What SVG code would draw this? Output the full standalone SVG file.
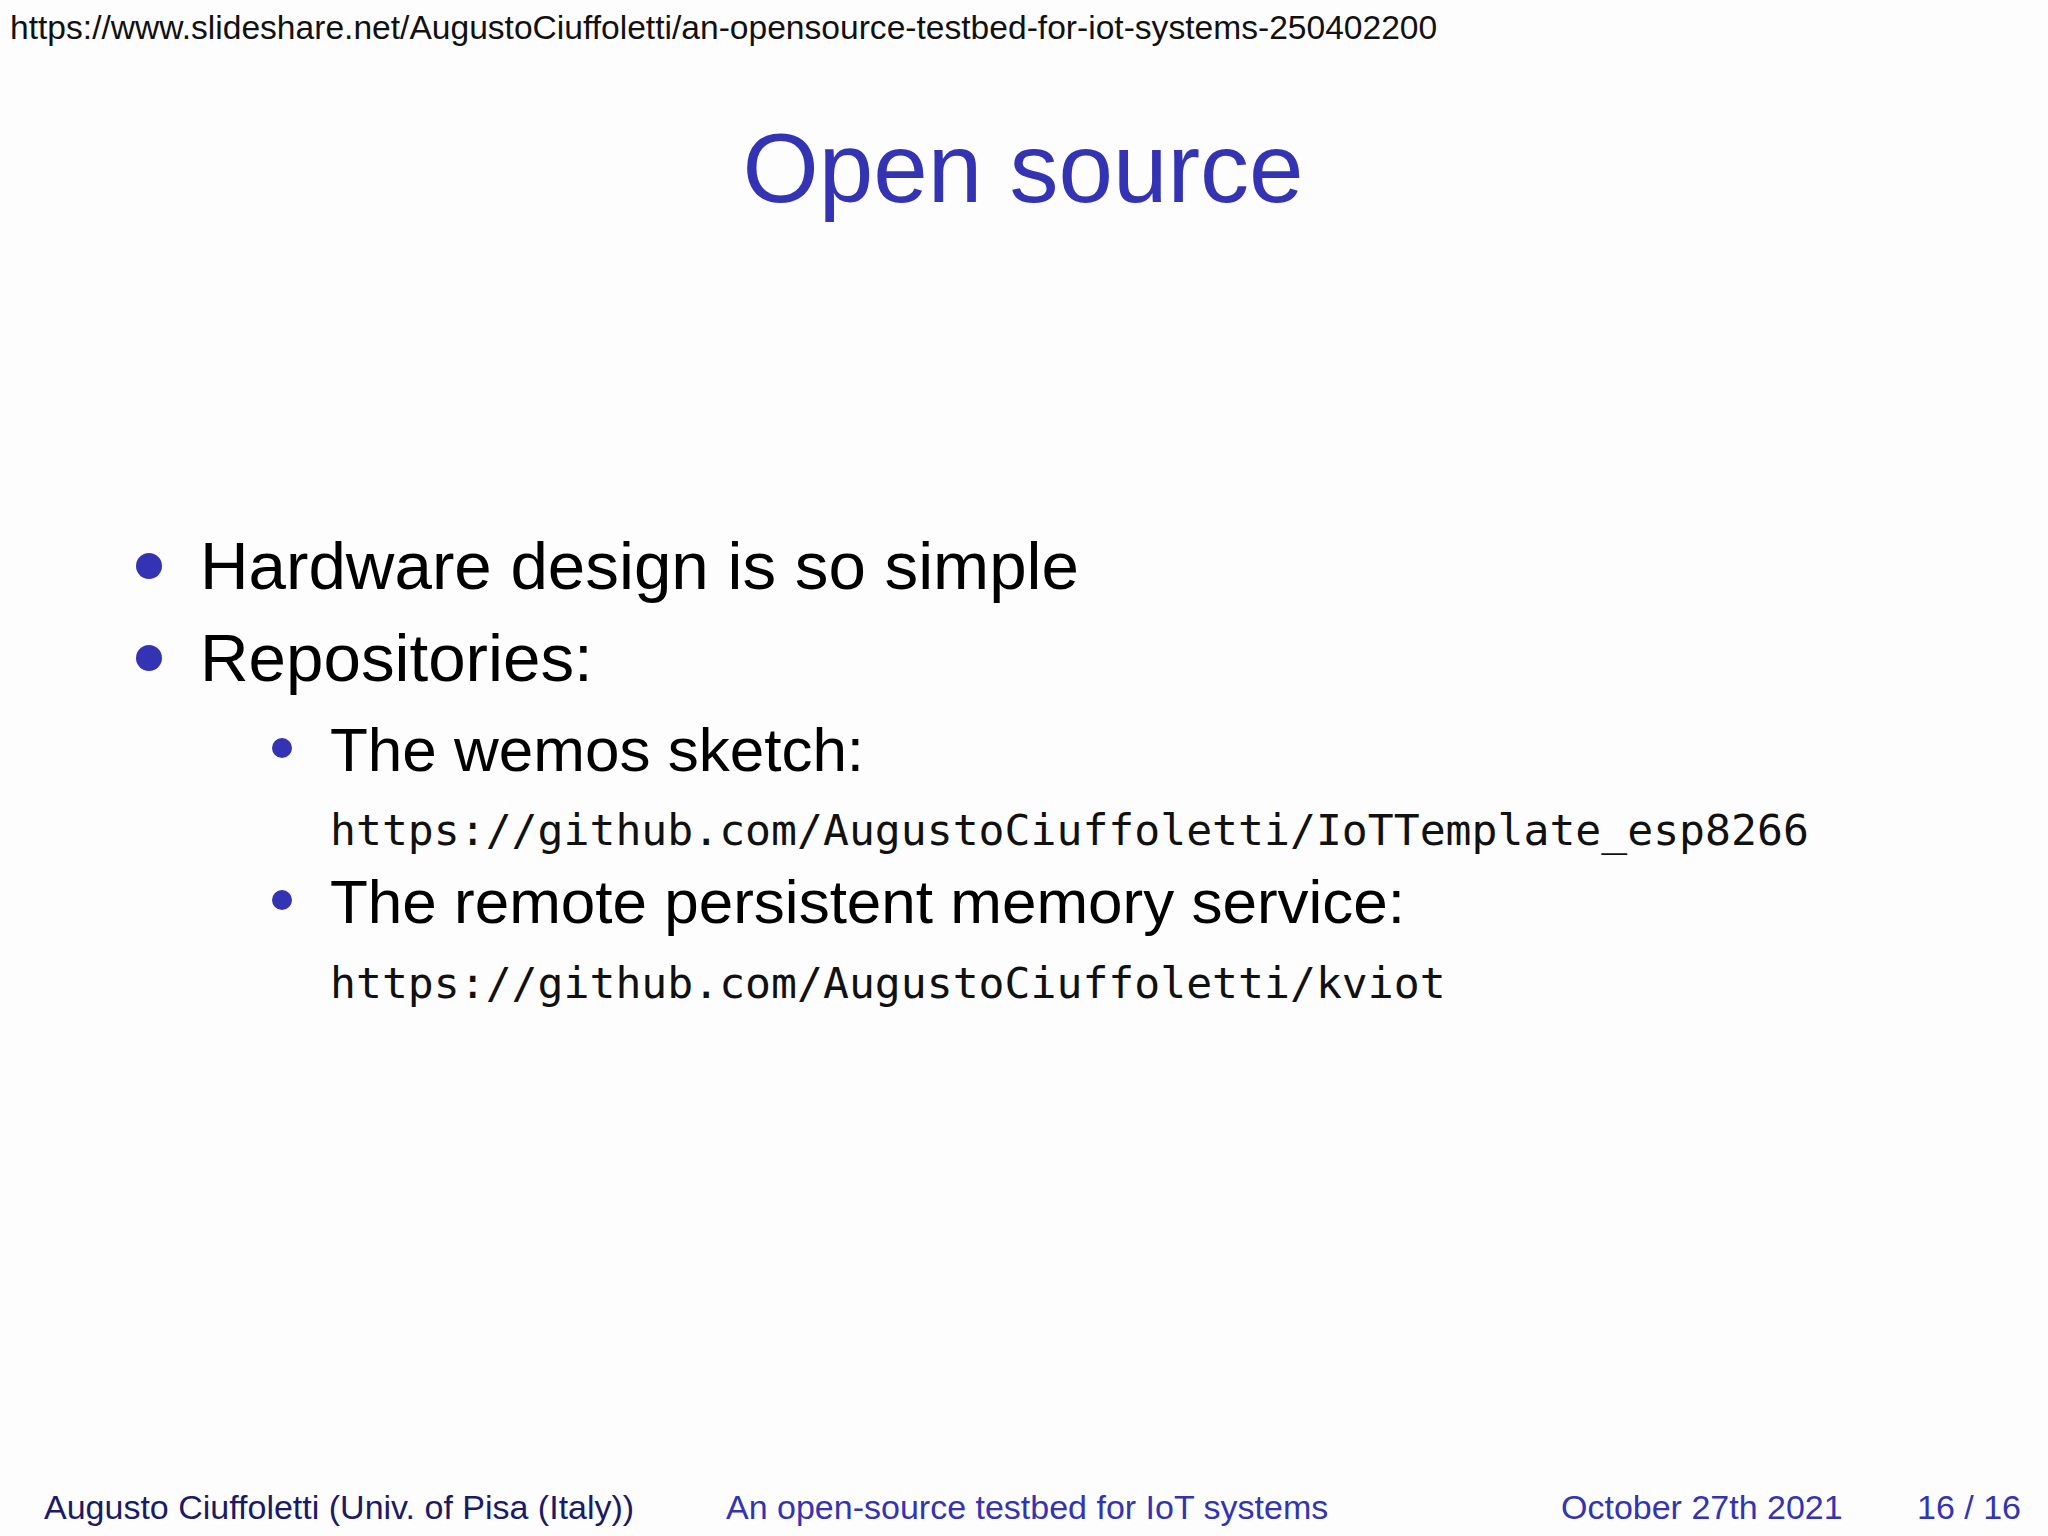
<svg xmlns="http://www.w3.org/2000/svg" width="2048" height="1536" viewBox="0 0 2048 1536">
<style>
.s{font-family:"Liberation Sans",Arial,sans-serif}
.m{font-family:"DejaVu Sans Mono",monospace;font-size:43.1px;fill:#111}
.b{fill:#000}
.dot{fill:#3333b3}
.f{font-family:"Liberation Sans",Arial,sans-serif;font-size:34px;fill:#3333b3}
</style>
<rect width="2048" height="1536" fill="#fdfdfe"/>
<text class="s" x="10" y="39" font-size="33.6" fill="#111">https://www.slideshare.net/AugustoCiuffoletti/an-opensource-testbed-for-iot-systems-250402200</text>
<text class="s" x="1023" y="202" font-size="98" fill="#3333b3" text-anchor="middle">Open source</text>
<g id="b1"><circle class="dot" cx="149" cy="566" r="13"/><text class="s b" x="200" y="589" font-size="67.3">Hardware design is so simple</text></g>
<g id="b2"><circle class="dot" cx="149" cy="658" r="13"/><text class="s b" x="200" y="681" font-size="67.3">Repositories:</text></g>
<g id="b3"><circle class="dot" cx="282" cy="748" r="10"/><text class="s b" x="330" y="771" font-size="62">The wemos sketch:</text>
<text class="m" x="330" y="845">https://github.com/AugustoCiuffoletti/IoTTemplate_esp8266</text></g>
<g id="b4"><circle class="dot" cx="282" cy="900" r="10"/><text class="s b" x="330" y="923" font-size="62">The remote persistent memory service:</text>
<text class="m" x="330" y="998">https://github.com/AugustoCiuffoletti/kviot</text></g>
<text class="f" x="44" y="1519" style="fill:#1a1a66">Augusto Ciuffoletti  (Univ. of Pisa (Italy))</text>
<text class="f" x="726" y="1519">An open-source testbed for IoT systems</text>
<text class="f" x="1561" y="1519">October 27th 2021</text>
<text class="f" x="1917" y="1519">16 / 16</text>
</svg>
